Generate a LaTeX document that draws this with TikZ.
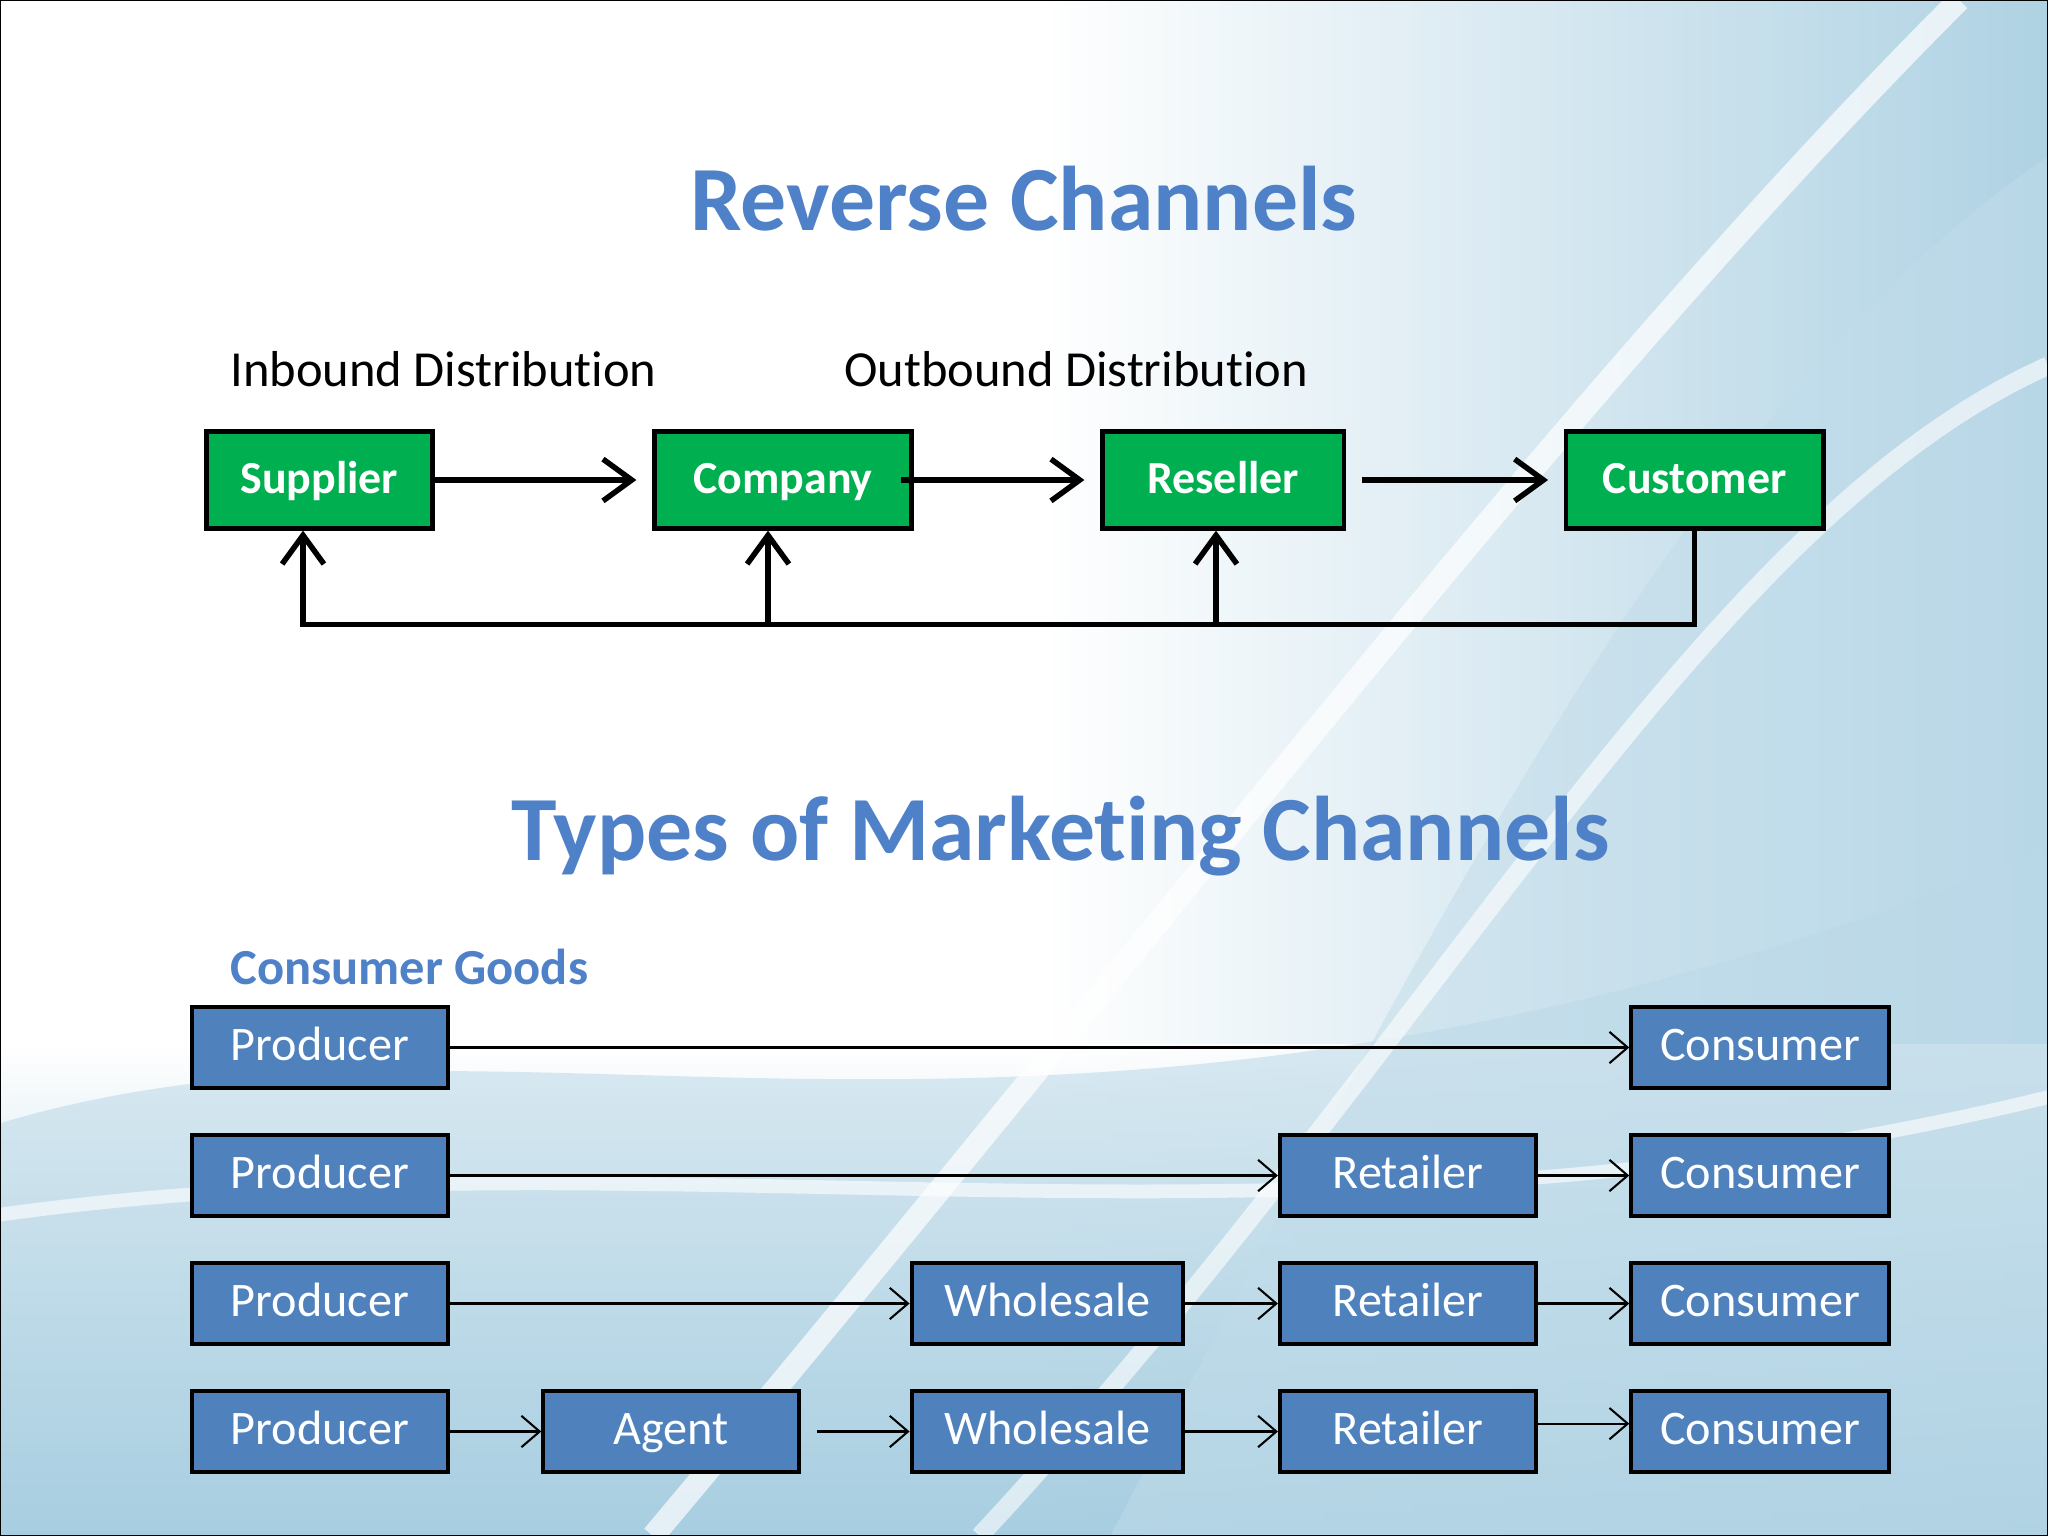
\documentclass[tikz,border=0pt]{standalone}
\usepackage{fontspec}
\setmainfont{Carlito}[Ligatures={NoCommon,NoRare}]
\usetikzlibrary{arrows.meta}
\definecolor{ttl}{RGB}{79,129,200}
\definecolor{gbox}{RGB}{0,176,80}
\definecolor{bbox}{RGB}{79,129,189}
\definecolor{sky}{RGB}{130,185,212}
\begin{document}
\begin{tikzpicture}[
  gnode/.style={draw=black, line width=1pt, fill=gbox, text=white, font=\fontsize{10}{12}\selectfont\bfseries, minimum height=0.74cm, inner sep=0pt, text height=1.6ex, text depth=0.4ex},
  bnode/.style={draw=black, line width=0.9pt, fill=bbox, text=white, font=\fontsize{10.5}{12}\selectfont, minimum height=0.62cm, inner sep=0pt, text height=1.6ex, text depth=0.4ex},
  thick arrow/.style={line width=1.2pt, -{Straight Barb[length=2.2mm,width=3.2mm,line width=1.2pt]}},
  thin arrow/.style={line width=0.45pt, -{Straight Barb[length=1.4mm,width=2.4mm]}},
  title/.style={text=ttl, font=\fontsize{20}{24}\selectfont\bfseries}
]
\useasboundingbox (0,0) rectangle (15.68,-11.76);
% background
\fill[white] (0,0) rectangle (15.68,-11.76);
\shade[left color=white, right color=sky!80, opacity=0.8] (8,0) rectangle (15.68,-11.76);
\shade[top color=white, bottom color=sky, opacity=0.8] (0,-8) rectangle (15.68,-11.76);
\fill[sky!60, opacity=0.5] (0,-8.6) .. controls (4,-7.4) and (8,-9.6) .. (15.68,-6.5) -- (15.68,-11.76) -- (0,-11.76) -- cycle;
\fill[sky!50, opacity=0.5] (8.5,-11.76) .. controls (11,-7) and (13,-3) .. (15.68,-1.2) -- (15.68,-11.76) -- cycle;
\draw[white, line width=5pt, opacity=0.7] (5,-11.76) .. controls (9,-7) and (12,-3) .. (15.0,0);
\draw[white, line width=3pt, opacity=0.6] (0,-9.3) .. controls (5,-8.6) and (10,-9.8) .. (15.68,-8.4);
\draw[white, line width=4pt, opacity=0.6] (7.5,-11.76) .. controls (11,-8) and (13,-4) .. (15.68,-2.8);
\draw[black, line width=0.6pt] (0,0) rectangle (15.68,-11.76);

% titles
\node[title] (t1) at (7.84,-1.52) {Reverse Channels};
\node[title] (t2) at (8.12,-6.40) {Types of Marketing Channels};
\node[anchor=west, font=\fontsize{11}{13}\selectfont] (ib) at (1.64,-2.83) {Inbound Distribution};
\node[anchor=west, font=\fontsize{11}{13}\selectfont] (ob) at (6.34,-2.83) {Outbound Distribution};

% reverse channels
\node[gnode, minimum width=1.73cm] (su) at (2.445,-3.675) {Supplier};
\node[gnode, minimum width=1.97cm] (co) at (5.995,-3.675) {Company};
\node[gnode, minimum width=1.85cm] (re) at (9.365,-3.675) {Reseller};
\node[gnode, minimum width=1.97cm] (cu) at (12.975,-3.675) {Customer};
\draw[thick arrow] (su.east) -- ([xshift=-0.12cm]co.west);
\draw[thick arrow] ([xshift=-0.1cm]co.east) -- ([xshift=-0.12cm]re.west);
\draw[thick arrow] ([xshift=0.12cm]re.east) -- ([xshift=-0.12cm]cu.west);
\coordinate (fb) at (2.32,-4.78);
\coordinate (b1) at (5.88,-4.78);
\coordinate (b2) at (9.31,-4.78);
\draw[thick arrow] (cu.south) |- (fb) -- (fb |- su.south);
\draw[thick arrow] (b1) -- (b1 |- co.south);
\draw[thick arrow] (b2) -- (b2 |- re.south);

% types of marketing channels
\node[anchor=west, text=ttl, font=\fontsize{11}{13}\selectfont\bfseries] (cg) at (1.64,-7.40) {Consumer Goods};
\foreach \r/\y in {1/-8.02, 2/-9.00, 3/-9.98, 4/-10.96}{
  \node[bnode, minimum width=1.96cm] (p\r) at (2.45,\y) {Producer};
  \node[bnode, minimum width=1.97cm] (c\r) at (13.475,\y) {Consumer};
}
\foreach \r/\y in {2/-9.00, 3/-9.98, 4/-10.96}
  \node[bnode, minimum width=1.96cm] (r\r) at (10.78,\y) {Retailer};
\foreach \r/\y in {3/-9.98, 4/-10.96}
  \node[bnode, minimum width=2.08cm] (w\r) at (8.02,\y) {Wholesale};
\node[bnode, minimum width=1.96cm] (a4) at (5.14,-10.96) {Agent};

\draw[thin arrow] (p1) -- (c1);
\draw[thin arrow] (p2) -- (r2);
\draw[thin arrow] (r2) -- (c2);
\draw[thin arrow] (p3) -- (w3);
\draw[thin arrow] (w3) -- (r3);
\draw[thin arrow] (r3) -- (c3);
\draw[thin arrow] (p4) -- (a4);
\draw[thin arrow] ([xshift=0.12cm]a4.east) -- (w4);
\draw[thin arrow] (w4) -- (r4);
\draw[thin arrow] ([yshift=0.06cm]r4.east) -- ([yshift=0.06cm]c4.west);
\end{tikzpicture}
\end{document}
